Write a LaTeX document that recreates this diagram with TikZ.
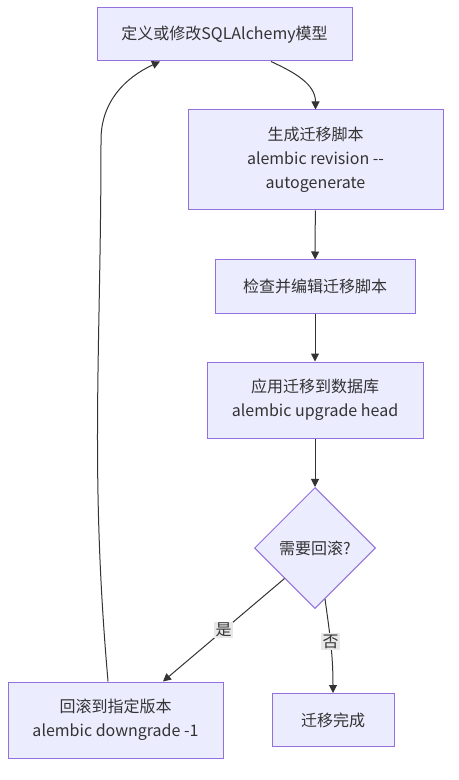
\documentclass[tikz,border=0pt]{standalone}
\usepackage{fontspec}
\setmainfont{Noto Sans CJK SC}
\usetikzlibrary{arrows.meta,shapes.geometric}
\definecolor{boxfill}{HTML}{ECECFF}
\definecolor{boxline}{HTML}{9370DB}
\definecolor{ink}{HTML}{333333}
\definecolor{lblbg}{HTML}{E8E8E8}
\begin{document}
\begin{tikzpicture}[x=0.75pt,y=-0.75pt,
    every node/.style={text=ink,font=\fontsize{12}{18}\selectfont},
    stepbox/.style={draw=boxline,fill=boxfill,line width=0.75pt,align=center,inner sep=0pt},
    choice/.style={diamond,draw=boxline,fill=boxfill,line width=0.75pt,aspect=1,minimum size=90.75pt,inner sep=0pt},
    arr/.style={draw=ink,line width=0.75pt,-{Triangle[length=6pt,width=6pt]}},
    lbl/.style={fill=lblbg,inner sep=1pt}]
    \useasboundingbox (0,0) rectangle (459,780);
    \node[stepbox,minimum width=191.25pt,minimum height=39.75pt] (model) at (224.5,34.5) {定义或修改SQLAlchemy模型};
    \node[stepbox,minimum width=191.25pt,minimum height=75pt] (gen) at (315.5,160) {生成迁移脚本\\alembic revision {-}{-}\\autogenerate};
    \node[stepbox,minimum width=150pt,minimum height=39.75pt] (check) at (315,286.5) {检查并编辑迁移脚本};
    \node[stepbox,minimum width=162pt,minimum height=57pt] (apply) at (315,400) {应用迁移到数据库\\alembic upgrade head};
    \node[choice] (ask) at (315,548) {需要回滚?};
    \node[stepbox,minimum width=161.25pt,minimum height=57pt] (down) at (115.5,720) {回滚到指定版本\\alembic downgrade -1};
    \node[stepbox,minimum width=91.5pt,minimum height=39.75pt] (done) at (333,720) {迁移完成};
    \coordinate (up) at (101,140);
    \draw[arr] ([xshift=34.9pt]model.south) to[out=-25,in=90] (gen.north);
    \draw[arr] (gen) -- (check);
    \draw[arr] (check) -- (apply);
    \draw[arr] (apply) -- (ask);
    \draw[arr] (ask.south west) -- node[lbl] {是} ([xshift=35.6pt]down.north);
    \draw[arr] ([xshift=7.5pt,yshift=7.5pt]ask.south) to[out=-82,in=90] node[lbl,pos=0.45] {否} (done.north);
    \draw[arr] ([xshift=-5.6pt]down.north) to[out=95,in=-90] (up) to[out=90,in=205] ([xshift=-48.4pt]model.south);
  \end{tikzpicture}
\end{document}
